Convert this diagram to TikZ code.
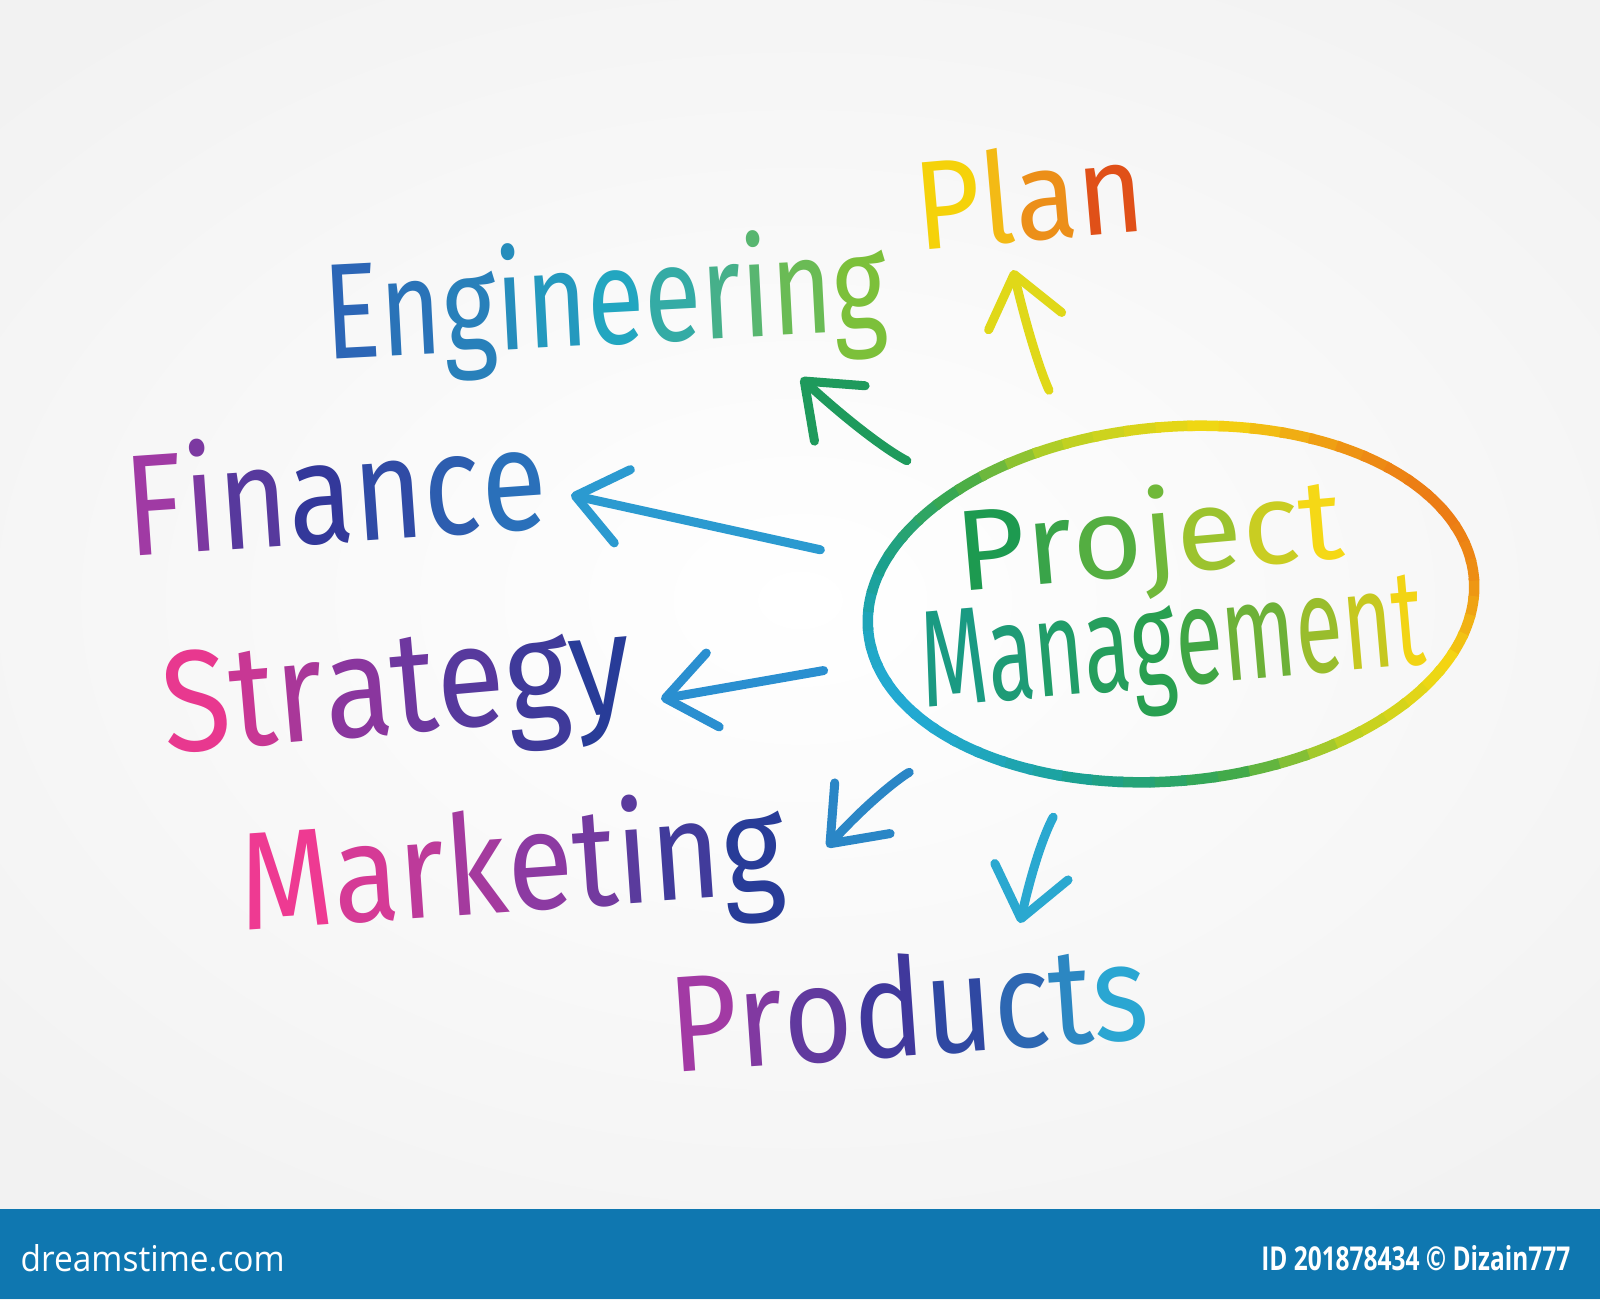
\documentclass[tikz,border=0pt]{standalone}
\usepackage{fontspec}
\usepackage{graphicx}
\usetikzlibrary{arrows.meta,shapes.geometric}

\newfontfamily\handfont{Fira Sans}
\newfontfamily\bannerfont{Open Sans}

\definecolor{bgray}{HTML}{F2F2F2}
\definecolor{banner}{HTML}{0F77B0}
% ring colours
\definecolor{rcyan}{HTML}{22A9D2}
\definecolor{rteal}{HTML}{1AA08E}
\definecolor{rgreen}{HTML}{3AA84C}
\definecolor{rlime}{HTML}{B8D024}
\definecolor{ryellow}{HTML}{F4D812}
\definecolor{rorange}{HTML}{EC7C14}
% word colours
\definecolor{plA}{HTML}{F5D20A}
\definecolor{plB}{HTML}{F2AE1A}
\definecolor{plC}{HTML}{E05018}
\definecolor{enA}{HTML}{2C66B6}
\definecolor{enB}{HTML}{22A6C0}
\definecolor{enC}{HTML}{7CC03A}
\definecolor{fiA}{HTML}{A03AA4}
\definecolor{fiB}{HTML}{33389A}
\definecolor{fiC}{HTML}{2A70BA}
\definecolor{stA}{HTML}{E8388F}
\definecolor{stB}{HTML}{7A36A0}
\definecolor{stC}{HTML}{283C98}
\definecolor{maA}{HTML}{EE3A92}
\definecolor{maB}{HTML}{8C3AA2}
\definecolor{maC}{HTML}{283C98}
\definecolor{prA}{HTML}{A23AA4}
\definecolor{prB}{HTML}{30389A}
\definecolor{prC}{HTML}{2AA6D2}
\definecolor{pjA}{HTML}{1D9A50}
\definecolor{pjB}{HTML}{70B83A}
\definecolor{pjC}{HTML}{F5D816}
\definecolor{mgA}{HTML}{1A9A82}
\definecolor{mgB}{HTML}{2AA04A}
\definecolor{mgC}{HTML}{F2D414}

\newdimen\pxu \pxu=0.01cm

% word with a three colour run over its letters
\ExplSyntaxOn
\NewDocumentCommand\gradword{O{1.15}mmmmm}{
  \resizebox{#5\pxu}{!}{\scalebox{1}[#1]{\handfont
    \int_set:Nn \l_tmpa_int { \tl_count:n {#6} }
    \int_zero:N \l_tmpb_int
    \tl_map_inline:nn {#6}
     {
      \fp_set:Nn \l_tmpa_fp { \l_tmpb_int / (\l_tmpa_int - 1) }
      \fp_compare:nNnTF \l_tmpa_fp < {0.5}
       { \tl_set:Nx \l_tmpa_tl { #3 ! \fp_eval:n { round(200*\l_tmpa_fp,1) } ! #2 } }
       { \tl_set:Nx \l_tmpa_tl { #4 ! \fp_eval:n { round(200*\l_tmpa_fp-100,1) } ! #3 } }
      \exp_args:NV \color \l_tmpa_tl
      ##1
      \int_incr:N \l_tmpb_int
     }
  }}
}
\ExplSyntaxOff

% colour of one piece of the ring
\newcommand\ringcolor[1]{%
  \pgfmathsetmacro\rt{#1}%
  \ifdim\rt pt<0.15pt
    \pgfmathsetmacro\rp{100*\rt/0.15}\colorlet{segc}{rteal!\rp!rcyan}%
  \else\ifdim\rt pt<0.35pt
    \pgfmathsetmacro\rp{100*(\rt-0.15)/0.2}\colorlet{segc}{rgreen!\rp!rteal}%
  \else\ifdim\rt pt<0.55pt
    \pgfmathsetmacro\rp{100*(\rt-0.35)/0.2}\colorlet{segc}{rlime!\rp!rgreen}%
  \else\ifdim\rt pt<0.8pt
    \pgfmathsetmacro\rp{100*(\rt-0.55)/0.25}\colorlet{segc}{ryellow!\rp!rlime}%
  \else
    \pgfmathsetmacro\rp{min(100,100*(\rt-0.8)/0.2)}\colorlet{segc}{rorange!\rp!ryellow}%
  \fi\fi\fi\fi}

\begin{document}
\begin{tikzpicture}[x=0.01cm,y=-0.01cm,
  word/.style={inner sep=0pt},
  ring/.style={line width=1.05mm},
  arr/.style={line width=0.9mm, line cap=round, line join=round,
    -{Straight Barb[length=4.8mm,width=7.5mm,line cap=round,line join=round]}}]

% background
\useasboundingbox (0,0) rectangle (1600,1299);
\clip (0,0) rectangle (1600,1299);
\fill[bgray] (0,0) rectangle (1600,1299);
\fill[inner color=white, outer color=bgray] (-300,-150) rectangle (1900,1350);
\fill[banner] (0,1209) rectangle (1600,1299);

% centre
\node[ellipse, minimum width=6.08cm, minimum height=3.54cm, inner sep=0pt, rotate=5] (pm) at (1171,604) {};
\begin{scope}[shift={(1171,604)}, rotate=5]
\foreach \a in {0,6,...,354}{
  \ringcolor{(1+cos(\a+28))/2}
  \draw[ring, segc] (\a:304 and 177) arc[start angle=\a, delta angle=7, x radius=304, y radius=177];
}
\end{scope}
\node[word, rotate=5] (prj) at (1150,542) {\gradword[0.95]{pjA}{pjB}{pjC}{388}{Project}};
\node[word, rotate=5] (mgt) at (1173,653) {\gradword[1.6]{mgA}{mgB}{mgC}{505}{Management}};

% words
\node[word, rotate=5] (plan) at (1029,194) {\gradword[1.1]{plA}{plB}{plC}{230}{Plan}};
\node[word, rotate=3] (eng) at (606,306) {\gradword[1.3]{enA}{enB}{enC}{563}{Engineering}};
\node[word, rotate=4] (fin) at (335,487) {\gradword[1.2]{fiA}{fiB}{fiC}{422}{Finance}};
\node[word, rotate=5] (str) at (398,698) {\gradword{stA}{stB}{stC}{470}{Strategy}};
\node[word, rotate=4] (mkt) at (512,872) {\gradword{maA}{maB}{maC}{546}{Marketing}};
\node[word, rotate=4] (prd) at (908,1005) {\gradword{prA}{prB}{prC}{480}{Products}};

% arrow tips
\coordinate (plan-tip) at (1013,270);
\coordinate (eng-tip) at (801,378);
\coordinate (fin-tip) at (571,495);
\coordinate (str-tip) at (661,699);
\coordinate (mkt-tip) at (827,847);
\coordinate (prd-tip) at (1020,923);

\draw[arr, color={rgb,255:red,224;green,216;blue,24}, shorten <=0.56cm] (pm.116) to[bend left=6] (plan-tip);
\draw[arr, color={rgb,255:red,30;green,154;blue,92}, shorten <=0.6cm] (pm.146) to[bend left=8] (eng-tip);
\draw[arr, color={rgb,255:red,43;green,154;blue,208}, shorten <=0.64cm] (pm.167) -- (fin-tip);
\draw[arr, color={rgb,255:red,42;green,143;blue,208}, shorten <=0.52cm] (pm.186) -- (str-tip);
\draw[arr, color={rgb,255:red,42;green,134;blue,198}, shorten <=0.62cm] (pm.210) to[bend right=12] (mkt-tip);
\draw[arr, color={rgb,255:red,42;green,168;blue,208}, shorten <=0.44cm] (pm.236) to[bend right=8] (prd-tip);

% banner
\node[anchor=west, inner sep=0pt, text=white] (site) at (20,1258) {\bannerfont\resizebox{264\pxu}{27\pxu}{dreamstime.com}};
\node[anchor=east, inner sep=0pt, text=white] (credit) at (1571,1258) {\bannerfont\bfseries\resizebox{309\pxu}{25\pxu}{ID 201878434 © Dizain777}};
\end{tikzpicture}
\end{document}
